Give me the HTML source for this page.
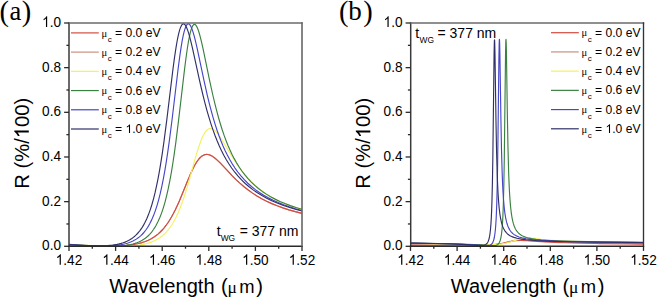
<!DOCTYPE html>
<html><head><meta charset="utf-8"><style>
html,body{margin:0;padding:0;background:#fff;width:657px;height:298px;overflow:hidden}
svg{display:block}
text{font-family:"Liberation Sans",sans-serif;fill:#000}
.tk{font-size:13.6px}
.ttl{font-size:20.13px}
.ttl2{font-size:20.2px}
.mu{font-family:"Liberation Serif",serif;font-size:17.5px}
.mm{font-size:17.5px}
.lg{font-size:12.1px}
.lmu{font-family:"Liberation Serif",serif;font-size:10.5px}
.lsub{font-size:8px}
.tw{font-size:14.0px}
.subw{font-size:8.4px}
.pl{font-family:"Liberation Serif",serif;font-size:28.5px}
.pl2{font-family:"Liberation Serif",serif;font-size:26.5px}
.pl3{font-family:"Liberation Serif",serif;font-size:27px}
</style></head><body>
<svg width="657" height="298" viewBox="0 0 657 298">
<rect width="657" height="298" fill="#fff"/>
<defs><clipPath id="ca"><rect x="69.0" y="22.0" width="233.0" height="224.3"/></clipPath>
<clipPath id="cb"><rect x="410.5" y="22.0" width="233.0" height="224.3"/></clipPath></defs>
<g clip-path="url(#ca)"><path d="M69.00,245.00 L90.80,245.80 L98.68,246.01 L105.48,246.10 L111.64,246.09 L117.12,245.98 L122.08,245.75 L126.60,245.40 L130.92,244.92 L134.92,244.28 L138.64,243.50 L142.08,242.57 L145.32,241.46 L148.36,240.19 L151.24,238.72 L154.00,237.04 L156.16,235.51 L158.24,233.83 L160.24,232.01 L162.20,230.01 L164.12,227.81 L165.96,225.48 L167.76,222.98 L169.56,220.23 L171.48,217.02 L173.40,213.53 L175.32,209.75 L177.32,205.52 L179.16,201.40 L181.12,196.80 L187.52,181.08 L189.92,175.36 L192.44,169.80 L194.72,165.33 L196.12,162.92 L197.52,160.79 L198.88,159.00 L200.24,157.51 L201.60,156.32 L202.96,155.43 L204.32,154.83 L205.72,154.49 L206.76,154.43 L207.84,154.51 L208.96,154.75 L210.08,155.13 L211.24,155.66 L212.48,156.37 L213.76,157.23 L215.08,158.25 L217.20,160.08 L219.64,162.44 L222.28,165.17 L229.08,172.46 L232.52,176.06 L236.28,179.80 L239.88,183.16 L244.04,186.75 L248.24,190.05 L252.52,193.11 L256.96,195.97 L261.68,198.70 L266.60,201.24 L271.76,203.62 L277.16,205.83 L282.88,207.91 L288.88,209.84 L295.24,211.65 L302.00,213.35" fill="none" stroke="#cc9080" stroke-width="1.15" stroke-linejoin="round"/>
<path d="M69.00,245.00 L90.80,245.80 L98.68,246.01 L105.48,246.10 L111.64,246.09 L117.12,245.98 L122.08,245.75 L126.60,245.40 L130.92,244.92 L134.92,244.28 L138.64,243.50 L142.08,242.57 L145.32,241.46 L148.36,240.19 L151.24,238.72 L154.00,237.04 L156.16,235.51 L158.24,233.83 L160.24,232.01 L162.20,230.01 L164.12,227.81 L165.96,225.48 L167.76,222.98 L169.56,220.23 L171.48,217.02 L173.40,213.53 L175.32,209.75 L177.32,205.52 L179.16,201.40 L181.12,196.80 L187.52,181.08 L189.92,175.36 L192.44,169.80 L194.72,165.33 L196.12,162.92 L197.52,160.79 L198.88,159.00 L200.24,157.51 L201.60,156.32 L202.96,155.43 L204.32,154.83 L205.72,154.49 L206.76,154.43 L207.84,154.51 L208.96,154.75 L210.08,155.13 L211.24,155.66 L212.48,156.37 L213.76,157.23 L215.08,158.25 L217.20,160.08 L219.64,162.44 L222.28,165.17 L229.08,172.46 L232.52,176.06 L236.28,179.80 L239.88,183.16 L244.04,186.75 L248.24,190.05 L252.52,193.11 L256.96,195.97 L261.68,198.70 L266.60,201.24 L271.76,203.62 L277.16,205.83 L282.88,207.91 L288.88,209.84 L295.24,211.65 L302.00,213.35" fill="none" stroke="#d44c40" stroke-width="1.15" stroke-linejoin="round"/>
<path d="M69.00,244.65 L96.64,245.79 L105.24,246.07 L112.44,246.23 L119.04,246.27 L124.84,246.18 L130.00,245.97 L134.64,245.62 L139.16,245.08 L143.28,244.38 L147.08,243.48 L150.56,242.39 L153.80,241.09 L156.84,239.57 L159.68,237.80 L162.36,235.79 L164.60,233.79 L166.72,231.59 L168.76,229.16 L170.72,226.50 L172.64,223.54 L174.48,220.35 L176.28,216.86 L178.04,213.08 L179.84,208.81 L181.60,204.23 L183.40,199.14 L185.24,193.51 L186.88,188.17 L188.68,182.01 L194.40,161.45 L196.48,154.21 L198.64,147.25 L200.56,141.77 L201.76,138.75 L202.96,136.10 L204.12,133.90 L205.24,132.13 L206.36,130.71 L207.52,129.62 L208.68,128.90 L209.28,128.67 L209.88,128.53 L210.76,128.49 L211.64,128.63 L212.56,128.96 L213.48,129.47 L214.44,130.17 L215.44,131.06 L216.48,132.15 L217.56,133.44 L219.64,136.26 L222.04,139.94 L230.44,153.97 L233.92,159.57 L236.84,164.01 L239.68,168.05 L243.56,173.12 L245.50,175.47 L247.48,177.73 L249.50,179.92 L251.56,182.02 L253.64,184.02 L255.76,185.94 L258.04,187.88 L260.40,189.76 L262.84,191.58 L265.32,193.30 L267.88,194.97 L270.50,196.56 L273.20,198.08 L276.00,199.56 L278.88,200.97 L281.88,202.34 L284.96,203.65 L288.12,204.90 L291.44,206.12 L294.84,207.27 L302.00,209.45" fill="none" stroke="#f3f160" stroke-width="1.15" stroke-linejoin="round"/>
<path d="M69.00,244.44 L83.84,245.31 L94.12,245.82 L102.52,246.12 L109.56,246.23 L115.88,246.13 L121.40,245.82 L126.28,245.28 L128.52,244.93 L130.68,244.51 L132.84,243.99 L134.88,243.41 L136.84,242.74 L138.68,242.00 L140.44,241.18 L142.16,240.26 L143.76,239.28 L145.32,238.18 L146.80,237.01 L148.24,235.73 L149.64,234.33 L150.96,232.85 L152.24,231.27 L153.50,229.53 L154.72,227.68 L155.88,225.74 L157.92,221.84 L159.84,217.54 L161.64,212.85 L163.40,207.57 L165.08,201.79 L166.72,195.36 L168.28,188.46 L169.80,180.93 L171.32,172.54 L172.80,163.51 L174.28,153.62 L175.80,142.59 L178.60,120.19 L184.56,69.08 L186.12,56.95 L187.56,47.02 L188.44,41.70 L189.32,37.02 L190.16,33.21 L191.00,30.07 L191.80,27.72 L192.64,25.92 L193.04,25.31 L193.48,24.82 L193.88,24.53 L194.32,24.38 L194.64,24.39 L195.00,24.50 L195.68,25.01 L196.36,25.90 L197.08,27.22 L197.84,29.00 L198.60,31.15 L199.40,33.74 L200.24,36.80 L201.56,42.15 L203.08,48.93 L209.68,80.76 L213.04,96.00 L214.88,103.73 L216.72,110.98 L218.56,117.74 L220.40,124.02 L222.20,129.73 L224.04,135.14 L225.92,140.26 L227.88,145.19 L229.88,149.81 L231.92,154.16 L234.08,158.39 L236.28,162.33 L239.00,166.77 L241.88,171.00 L244.88,174.95 L248.00,178.63 L251.28,182.11 L254.76,185.41 L258.40,188.49 L262.24,191.40 L266.28,194.13 L270.56,196.70 L275.08,199.13 L279.88,201.42 L284.96,203.58 L290.32,205.61 L296.00,207.51 L302.00,209.31" fill="none" stroke="#3a8040" stroke-width="1.15" stroke-linejoin="round"/>
<path d="M69.00,244.60 L81.32,245.31 L90.72,245.74 L98.56,245.95 L105.20,245.96 L111.16,245.76 L116.40,245.34 L121.08,244.68 L123.24,244.26 L125.32,243.78 L127.36,243.20 L129.32,242.55 L131.20,241.81 L132.96,241.01 L134.68,240.11 L136.32,239.12 L137.88,238.06 L139.40,236.89 L140.88,235.60 L142.28,234.24 L143.64,232.76 L144.92,231.22 L146.20,229.51 L147.40,227.75 L148.56,225.87 L149.72,223.81 L151.68,219.88 L153.52,215.59 L155.28,210.86 L157.00,205.57 L158.64,199.83 L160.20,193.67 L161.72,186.94 L163.24,179.44 L164.76,171.12 L166.24,162.20 L167.72,152.46 L169.24,141.63 L172.04,119.71 L178.12,68.78 L179.76,56.34 L181.20,46.64 L182.12,41.19 L183.00,36.62 L183.88,32.70 L184.72,29.62 L185.56,27.19 L186.44,25.35 L186.84,24.75 L187.28,24.26 L187.72,23.95 L188.16,23.80 L188.50,23.81 L188.84,23.91 L189.20,24.12 L189.56,24.43 L190.28,25.35 L191.00,26.65 L191.76,28.39 L192.56,30.58 L193.36,33.11 L194.24,36.23 L195.60,41.62 L197.16,48.41 L203.96,80.43 L207.48,96.01 L209.40,103.86 L211.32,111.21 L213.24,118.06 L215.16,124.42 L217.04,130.20 L219.00,135.77 L221.00,141.02 L223.04,145.96 L225.16,150.67 L227.32,155.08 L229.56,159.28 L231.92,163.33 L234.80,167.81 L237.80,172.01 L240.96,175.97 L244.28,179.70 L247.80,183.23 L251.48,186.53 L255.36,189.63 L259.44,192.55 L263.76,195.29 L268.32,197.87 L273.16,200.31 L278.28,202.60 L283.68,204.76 L289.44,206.79 L295.52,208.71 L302.00,210.52" fill="none" stroke="#4646c8" stroke-width="1.15" stroke-linejoin="round"/>
<path d="M69.00,244.57 L79.88,245.24 L88.52,245.65 L95.80,245.84 L102.08,245.81 L107.68,245.57 L112.68,245.09 L117.16,244.37 L119.24,243.92 L121.20,243.40 L123.16,242.79 L125.04,242.10 L126.84,241.33 L128.56,240.47 L130.20,239.54 L131.80,238.50 L133.32,237.39 L134.76,236.20 L136.16,234.91 L137.52,233.50 L138.84,231.99 L140.12,230.37 L141.32,228.69 L142.52,226.84 L143.68,224.88 L144.80,222.82 L146.68,218.91 L148.48,214.59 L150.20,209.86 L151.84,204.73 L153.44,199.08 L155.00,192.88 L156.50,186.23 L157.96,179.04 L159.48,170.78 L160.96,161.95 L162.44,152.33 L163.96,141.64 L166.76,120.10 L172.96,69.13 L174.64,56.62 L176.12,46.85 L177.04,41.50 L177.96,36.80 L178.88,32.79 L179.76,29.63 L180.64,27.16 L181.50,25.41 L181.96,24.75 L182.40,24.28 L182.84,23.98 L183.28,23.84 L183.64,23.85 L184.00,23.96 L184.72,24.47 L185.44,25.37 L186.20,26.69 L187.00,28.47 L187.80,30.61 L188.64,33.19 L189.52,36.22 L190.92,41.60 L192.52,48.35 L199.52,80.27 L201.40,88.50 L203.16,95.86 L205.16,103.77 L207.12,111.03 L209.12,117.93 L211.12,124.34 L213.08,130.15 L215.12,135.75 L217.20,141.02 L219.32,145.97 L221.52,150.68 L223.80,155.17 L226.16,159.43 L228.64,163.52 L231.64,168.00 L234.80,172.24 L238.08,176.19 L241.56,179.94 L245.24,183.49 L249.08,186.79 L253.12,189.90 L257.40,192.84 L261.92,195.60 L266.72,198.22 L271.76,200.66 L277.12,202.98 L282.80,205.17 L288.84,207.24 L295.24,209.19 L302.00,211.02" fill="none" stroke="#303068" stroke-width="1.15" stroke-linejoin="round"/></g>
<g clip-path="url(#cb)"><path d="M411.00,244.80 C420.67,244.80 430.25,244.80 440.00,244.80 C449.92,244.80 461.01,244.80 470.00,244.80 C477.34,244.80 484.53,245.05 490.00,244.80 C493.82,244.62 496.97,244.36 499.70,243.90 C501.75,243.56 503.26,243.02 505.00,242.60 C506.69,242.19 508.33,241.77 510.00,241.40 C511.66,241.03 513.32,240.63 515.00,240.40 C516.68,240.17 518.12,240.05 520.10,240.00 C522.86,239.93 526.36,240.14 530.00,240.30 C534.48,240.50 539.64,240.91 545.00,241.20 C551.19,241.54 557.40,241.92 565.00,242.20 C575.04,242.57 587.73,242.77 600.00,243.00 C613.60,243.25 628.67,243.40 643.00,243.60" fill="none" stroke="#cc9080" stroke-width="1.15" stroke-linejoin="round"/>
<path d="M411.00,245.20 C420.67,245.20 430.25,245.20 440.00,245.20 C449.92,245.20 461.01,245.22 470.00,245.20 C477.34,245.18 484.53,245.39 490.00,245.10 C493.82,244.89 496.96,244.55 499.70,244.10 C501.74,243.76 503.26,243.31 505.00,242.90 C506.69,242.51 508.33,242.07 510.00,241.70 C511.66,241.33 513.32,240.92 515.00,240.70 C516.68,240.48 518.12,240.41 520.10,240.40 C522.86,240.39 526.36,240.69 530.00,240.90 C534.48,241.16 539.64,241.60 545.00,241.90 C551.19,242.25 557.41,242.54 565.00,242.80 C575.04,243.14 587.73,243.39 600.00,243.60 C613.60,243.83 628.67,243.93 643.00,244.10" fill="none" stroke="#d44c40" stroke-width="1.15" stroke-linejoin="round"/>
<path d="M411.00,243.20 C417.33,243.33 423.59,243.44 430.00,243.60 C436.58,243.77 443.33,244.03 450.00,244.20 C456.67,244.37 463.33,244.52 470.00,244.60 C476.67,244.68 484.53,244.77 490.00,244.70 C493.81,244.65 496.96,244.70 499.70,244.40 C501.74,244.18 503.27,243.81 505.00,243.40 C506.70,243.00 508.34,242.50 510.00,242.00 C511.67,241.50 513.33,240.90 515.00,240.40 C516.66,239.90 518.18,239.40 520.00,239.00 C522.13,238.54 524.58,238.01 527.00,237.90 C529.57,237.78 532.19,238.12 535.00,238.40 C538.15,238.72 541.09,239.41 545.00,239.80 C550.51,240.35 557.40,240.66 565.00,241.00 C575.04,241.44 587.73,241.74 600.00,242.00 C613.60,242.29 628.67,242.40 643.00,242.60" fill="none" stroke="#f3f160" stroke-width="1.15" stroke-linejoin="round"/>
<path d="M410.50,243.17 L439.00,243.54 L460.00,244.01 L474.00,244.55 L480.50,244.92 L489.88,245.57 L493.04,245.67 L494.36,245.60 L495.44,245.45 L496.36,245.21 L497.16,244.86 L497.88,244.37 L498.50,243.77 L499.04,243.04 L499.56,242.09 L500.28,240.18 L500.92,237.59 L501.44,234.49 L501.92,230.44 L502.36,225.22 L502.72,219.40 L503.04,212.58 L503.36,203.67 L503.84,184.82 L504.28,159.58 L505.56,52.75 L505.80,41.90 L505.88,40.17 L506.00,39.43 L506.20,42.88 L506.44,53.35 L507.40,117.13 L508.00,148.85 L508.68,173.34 L509.08,183.61 L509.48,191.72 L510.00,199.89 L510.56,206.53 L511.24,212.56 L512.00,217.51 L512.88,221.69 L513.40,223.63 L513.92,225.27 L514.50,226.82 L515.12,228.22 L515.80,229.52 L516.52,230.68 L517.28,231.72 L518.12,232.68 L519.00,233.54 L519.96,234.32 L521.00,235.04 L522.16,235.72 L523.40,236.33 L524.76,236.89 L526.50,237.48 L528.00,237.90 L531.50,238.67 L536.00,239.37 L541.00,239.92 L547.00,240.38 L554.50,240.79 L563.50,241.13 L574.50,241.43 L602.50,241.89 L643.50,242.26" fill="none" stroke="#3a8040" stroke-width="1.15" stroke-linejoin="round"/>
<path d="M410.50,243.04 L436.00,243.47 L455.00,243.99 L468.00,244.56 L474.00,244.93 L483.29,245.61 L486.53,245.72 L487.85,245.65 L488.93,245.49 L489.85,245.23 L490.65,244.85 L491.37,244.33 L492.00,243.67 L492.57,242.84 L493.05,241.88 L493.77,239.83 L494.37,237.25 L494.89,234.01 L495.37,229.77 L495.77,224.89 L496.13,219.00 L496.45,212.13 L496.77,203.18 L497.17,188.05 L497.57,167.03 L498.01,135.56 L498.89,59.20 L499.17,43.90 L499.29,40.59 L499.41,39.41 L499.53,40.32 L499.65,43.16 L499.89,53.57 L500.89,118.47 L501.50,149.69 L502.17,173.06 L502.57,183.15 L503.00,191.73 L503.53,199.80 L504.17,207.10 L504.85,212.83 L505.65,217.79 L506.57,221.95 L507.09,223.79 L507.65,225.47 L508.25,226.99 L508.89,228.37 L509.57,229.61 L510.33,230.77 L511.13,231.81 L511.97,232.73 L512.89,233.59 L513.93,234.41 L515.01,235.12 L516.21,235.78 L517.50,236.39 L518.93,236.95 L522.00,237.88 L526.00,238.74 L530.50,239.41 L536.00,239.99 L542.50,240.48 L550.50,240.91 L560.00,241.27 L571.00,241.57 L600.50,242.10 L643.50,242.56" fill="none" stroke="#4646c8" stroke-width="1.15" stroke-linejoin="round"/>
<path d="M410.50,243.14 L433.00,243.50 L450.50,243.94 L462.00,244.39 L477.89,245.31 L481.45,245.39 L482.85,245.30 L484.00,245.12 L484.97,244.82 L485.81,244.40 L486.57,243.82 L487.21,243.11 L487.77,242.24 L488.29,241.15 L488.97,239.10 L489.57,236.41 L490.09,233.04 L490.53,229.04 L490.93,224.09 L491.29,218.10 L491.61,211.10 L491.93,201.96 L492.41,182.66 L492.85,156.91 L494.09,53.44 L494.33,42.44 L494.41,40.65 L494.53,39.82 L494.61,40.48 L494.73,43.16 L494.97,53.57 L495.97,120.14 L496.57,151.31 L497.25,175.27 L497.65,185.29 L498.05,193.20 L498.57,201.15 L499.17,208.03 L499.85,213.79 L500.65,218.74 L501.57,222.85 L502.09,224.66 L502.61,226.20 L503.21,227.71 L503.85,229.06 L504.57,230.34 L505.33,231.47 L506.13,232.47 L507.00,233.38 L507.93,234.21 L508.93,234.96 L510.05,235.66 L511.25,236.29 L512.57,236.87 L514.00,237.40 L517.00,238.25 L521.00,239.06 L526.00,239.75 L531.50,240.28 L538.00,240.72 L546.00,241.10 L555.50,241.43 L567.50,241.72 L598.50,242.21 L643.50,242.63" fill="none" stroke="#303068" stroke-width="1.15" stroke-linejoin="round"/></g>
<line x1="69.0" y1="22.4" x2="69.0" y2="246.9" stroke="#3a3a3a" stroke-width="1.5"/>
<line x1="68.4" y1="246.3" x2="302.6" y2="246.3" stroke="#2a2a2a" stroke-width="1.5"/>
<line x1="68.3" y1="23.0" x2="302.7" y2="23.0" stroke="#6a6a6a" stroke-width="1.6"/>
<line x1="302.0" y1="22.3" x2="302.0" y2="247.0" stroke="#666666" stroke-width="1.6"/>
<line x1="69.00" y1="246.3" x2="69.00" y2="250.9" stroke="#2a2a2a" stroke-width="1.3"/>
<line x1="92.30" y1="246.3" x2="92.30" y2="248.70000000000002" stroke="#2a2a2a" stroke-width="1.3"/>
<line x1="115.60" y1="246.3" x2="115.60" y2="250.9" stroke="#2a2a2a" stroke-width="1.3"/>
<line x1="138.90" y1="246.3" x2="138.90" y2="248.70000000000002" stroke="#2a2a2a" stroke-width="1.3"/>
<line x1="162.20" y1="246.3" x2="162.20" y2="250.9" stroke="#2a2a2a" stroke-width="1.3"/>
<line x1="185.50" y1="246.3" x2="185.50" y2="248.70000000000002" stroke="#2a2a2a" stroke-width="1.3"/>
<line x1="208.80" y1="246.3" x2="208.80" y2="250.9" stroke="#2a2a2a" stroke-width="1.3"/>
<line x1="232.10" y1="246.3" x2="232.10" y2="248.70000000000002" stroke="#2a2a2a" stroke-width="1.3"/>
<line x1="255.40" y1="246.3" x2="255.40" y2="250.9" stroke="#2a2a2a" stroke-width="1.3"/>
<line x1="278.70" y1="246.3" x2="278.70" y2="248.70000000000002" stroke="#2a2a2a" stroke-width="1.3"/>
<line x1="302.00" y1="246.3" x2="302.00" y2="250.9" stroke="#2a2a2a" stroke-width="1.3"/>
<line x1="64.1" y1="246.30" x2="69.0" y2="246.30" stroke="#2a2a2a" stroke-width="1.3"/>
<line x1="66.4" y1="223.97" x2="69.0" y2="223.97" stroke="#2a2a2a" stroke-width="1.3"/>
<line x1="64.1" y1="201.64" x2="69.0" y2="201.64" stroke="#2a2a2a" stroke-width="1.3"/>
<line x1="66.4" y1="179.31" x2="69.0" y2="179.31" stroke="#2a2a2a" stroke-width="1.3"/>
<line x1="64.1" y1="156.98" x2="69.0" y2="156.98" stroke="#2a2a2a" stroke-width="1.3"/>
<line x1="66.4" y1="134.65" x2="69.0" y2="134.65" stroke="#2a2a2a" stroke-width="1.3"/>
<line x1="64.1" y1="112.32" x2="69.0" y2="112.32" stroke="#2a2a2a" stroke-width="1.3"/>
<line x1="66.4" y1="89.99" x2="69.0" y2="89.99" stroke="#2a2a2a" stroke-width="1.3"/>
<line x1="64.1" y1="67.66" x2="69.0" y2="67.66" stroke="#2a2a2a" stroke-width="1.3"/>
<line x1="66.4" y1="45.33" x2="69.0" y2="45.33" stroke="#2a2a2a" stroke-width="1.3"/>
<line x1="64.1" y1="23.00" x2="69.0" y2="23.00" stroke="#2a2a2a" stroke-width="1.3"/>
<line x1="410.7" y1="22.4" x2="410.7" y2="246.9" stroke="#3a3a3a" stroke-width="1.5"/>
<line x1="409.9" y1="246.3" x2="644.1" y2="246.3" stroke="#2a2a2a" stroke-width="1.5"/>
<line x1="409.8" y1="23.0" x2="644.2" y2="23.0" stroke="#6a6a6a" stroke-width="1.6"/>
<line x1="643.5" y1="22.3" x2="643.5" y2="247.0" stroke="#333333" stroke-width="1.35"/>
<line x1="410.50" y1="246.3" x2="410.50" y2="250.9" stroke="#2a2a2a" stroke-width="1.3"/>
<line x1="433.80" y1="246.3" x2="433.80" y2="248.70000000000002" stroke="#2a2a2a" stroke-width="1.3"/>
<line x1="457.10" y1="246.3" x2="457.10" y2="250.9" stroke="#2a2a2a" stroke-width="1.3"/>
<line x1="480.40" y1="246.3" x2="480.40" y2="248.70000000000002" stroke="#2a2a2a" stroke-width="1.3"/>
<line x1="503.70" y1="246.3" x2="503.70" y2="250.9" stroke="#2a2a2a" stroke-width="1.3"/>
<line x1="527.00" y1="246.3" x2="527.00" y2="248.70000000000002" stroke="#2a2a2a" stroke-width="1.3"/>
<line x1="550.30" y1="246.3" x2="550.30" y2="250.9" stroke="#2a2a2a" stroke-width="1.3"/>
<line x1="573.60" y1="246.3" x2="573.60" y2="248.70000000000002" stroke="#2a2a2a" stroke-width="1.3"/>
<line x1="596.90" y1="246.3" x2="596.90" y2="250.9" stroke="#2a2a2a" stroke-width="1.3"/>
<line x1="620.20" y1="246.3" x2="620.20" y2="248.70000000000002" stroke="#2a2a2a" stroke-width="1.3"/>
<line x1="643.50" y1="246.3" x2="643.50" y2="250.9" stroke="#2a2a2a" stroke-width="1.3"/>
<line x1="405.6" y1="246.30" x2="410.5" y2="246.30" stroke="#2a2a2a" stroke-width="1.3"/>
<line x1="407.9" y1="223.97" x2="410.5" y2="223.97" stroke="#2a2a2a" stroke-width="1.3"/>
<line x1="405.6" y1="201.64" x2="410.5" y2="201.64" stroke="#2a2a2a" stroke-width="1.3"/>
<line x1="407.9" y1="179.31" x2="410.5" y2="179.31" stroke="#2a2a2a" stroke-width="1.3"/>
<line x1="405.6" y1="156.98" x2="410.5" y2="156.98" stroke="#2a2a2a" stroke-width="1.3"/>
<line x1="407.9" y1="134.65" x2="410.5" y2="134.65" stroke="#2a2a2a" stroke-width="1.3"/>
<line x1="405.6" y1="112.32" x2="410.5" y2="112.32" stroke="#2a2a2a" stroke-width="1.3"/>
<line x1="407.9" y1="89.99" x2="410.5" y2="89.99" stroke="#2a2a2a" stroke-width="1.3"/>
<line x1="405.6" y1="67.66" x2="410.5" y2="67.66" stroke="#2a2a2a" stroke-width="1.3"/>
<line x1="407.9" y1="45.33" x2="410.5" y2="45.33" stroke="#2a2a2a" stroke-width="1.3"/>
<line x1="405.6" y1="23.00" x2="410.5" y2="23.00" stroke="#2a2a2a" stroke-width="1.3"/>
<g transform="translate(55.77,264.85) scale(1,1.1)"><path transform="translate(0.00,0) scale(0.006641,-0.006641)" d="M763 0L583 0L583 1147Q518 1085 412 1023Q306 961 223 930L223 1104Q372 1174 484 1274Q596 1374 643 1466L763 1466Z" fill="#000"/><text x="7.56" y="0" class="" style="font-size:13.6px;white-space:pre">.42</text></g>
<g transform="translate(102.37,264.85) scale(1,1.1)"><path transform="translate(0.00,0) scale(0.006641,-0.006641)" d="M763 0L583 0L583 1147Q518 1085 412 1023Q306 961 223 930L223 1104Q372 1174 484 1274Q596 1374 643 1466L763 1466Z" fill="#000"/><text x="7.56" y="0" class="" style="font-size:13.6px;white-space:pre">.44</text></g>
<g transform="translate(148.97,264.85) scale(1,1.1)"><path transform="translate(0.00,0) scale(0.006641,-0.006641)" d="M763 0L583 0L583 1147Q518 1085 412 1023Q306 961 223 930L223 1104Q372 1174 484 1274Q596 1374 643 1466L763 1466Z" fill="#000"/><text x="7.56" y="0" class="" style="font-size:13.6px;white-space:pre">.46</text></g>
<g transform="translate(195.57,264.85) scale(1,1.1)"><path transform="translate(0.00,0) scale(0.006641,-0.006641)" d="M763 0L583 0L583 1147Q518 1085 412 1023Q306 961 223 930L223 1104Q372 1174 484 1274Q596 1374 643 1466L763 1466Z" fill="#000"/><text x="7.56" y="0" class="" style="font-size:13.6px;white-space:pre">.48</text></g>
<g transform="translate(242.17,264.85) scale(1,1.1)"><path transform="translate(0.00,0) scale(0.006641,-0.006641)" d="M763 0L583 0L583 1147Q518 1085 412 1023Q306 961 223 930L223 1104Q372 1174 484 1274Q596 1374 643 1466L763 1466Z" fill="#000"/><text x="7.56" y="0" class="" style="font-size:13.6px;white-space:pre">.50</text></g>
<g transform="translate(288.77,264.85) scale(1,1.1)"><path transform="translate(0.00,0) scale(0.006641,-0.006641)" d="M763 0L583 0L583 1147Q518 1085 412 1023Q306 961 223 930L223 1104Q372 1174 484 1274Q596 1374 643 1466L763 1466Z" fill="#000"/><text x="7.56" y="0" class="" style="font-size:13.6px;white-space:pre">.52</text></g>
<g transform="translate(42.09,250.25) scale(1,1.1)"><text x="0.00" y="0" class="" style="font-size:13.6px;white-space:pre">0.0</text></g>
<g transform="translate(42.09,205.59) scale(1,1.1)"><text x="0.00" y="0" class="" style="font-size:13.6px;white-space:pre">0.2</text></g>
<g transform="translate(42.09,160.93) scale(1,1.1)"><text x="0.00" y="0" class="" style="font-size:13.6px;white-space:pre">0.4</text></g>
<g transform="translate(42.09,116.27) scale(1,1.1)"><text x="0.00" y="0" class="" style="font-size:13.6px;white-space:pre">0.6</text></g>
<g transform="translate(42.09,71.61) scale(1,1.1)"><text x="0.00" y="0" class="" style="font-size:13.6px;white-space:pre">0.8</text></g>
<g transform="translate(42.09,26.95) scale(1,1.1)"><path transform="translate(0.00,0) scale(0.006641,-0.006641)" d="M763 0L583 0L583 1147Q518 1085 412 1023Q306 961 223 930L223 1104Q372 1174 484 1274Q596 1374 643 1466L763 1466Z" fill="#000"/><text x="7.56" y="0" class="" style="font-size:13.6px;white-space:pre">.0</text></g>
<text x="109.20" y="292.6" class="ttl">Wavelength</text>
<text x="221.00" y="293.0" class="ttl">(</text>
<text x="227.50" y="292.8" class="mu">&#956;</text>
<text x="239.30" y="293.1" class="mm" textLength="15.3" lengthAdjust="spacingAndGlyphs">m</text>
<text x="256.30" y="293.0" class="ttl">)</text>
<g transform="translate(28.80,188.65) rotate(-90)"><text x="0.00" y="0" class="" style="font-size:20.2px;white-space:pre">R (%/</text><path transform="translate(50.50,0) scale(0.009863,-0.009863)" d="M763 0L583 0L583 1147Q518 1085 412 1023Q306 961 223 930L223 1104Q372 1174 484 1274Q596 1374 643 1466L763 1466Z" fill="#000"/><text x="61.73" y="0" class="" style="font-size:20.2px;white-space:pre">00)</text></g>
<g transform="translate(397.27,264.85) scale(1,1.1)"><path transform="translate(0.00,0) scale(0.006641,-0.006641)" d="M763 0L583 0L583 1147Q518 1085 412 1023Q306 961 223 930L223 1104Q372 1174 484 1274Q596 1374 643 1466L763 1466Z" fill="#000"/><text x="7.56" y="0" class="" style="font-size:13.6px;white-space:pre">.42</text></g>
<g transform="translate(443.87,264.85) scale(1,1.1)"><path transform="translate(0.00,0) scale(0.006641,-0.006641)" d="M763 0L583 0L583 1147Q518 1085 412 1023Q306 961 223 930L223 1104Q372 1174 484 1274Q596 1374 643 1466L763 1466Z" fill="#000"/><text x="7.56" y="0" class="" style="font-size:13.6px;white-space:pre">.44</text></g>
<g transform="translate(490.47,264.85) scale(1,1.1)"><path transform="translate(0.00,0) scale(0.006641,-0.006641)" d="M763 0L583 0L583 1147Q518 1085 412 1023Q306 961 223 930L223 1104Q372 1174 484 1274Q596 1374 643 1466L763 1466Z" fill="#000"/><text x="7.56" y="0" class="" style="font-size:13.6px;white-space:pre">.46</text></g>
<g transform="translate(537.07,264.85) scale(1,1.1)"><path transform="translate(0.00,0) scale(0.006641,-0.006641)" d="M763 0L583 0L583 1147Q518 1085 412 1023Q306 961 223 930L223 1104Q372 1174 484 1274Q596 1374 643 1466L763 1466Z" fill="#000"/><text x="7.56" y="0" class="" style="font-size:13.6px;white-space:pre">.48</text></g>
<g transform="translate(583.67,264.85) scale(1,1.1)"><path transform="translate(0.00,0) scale(0.006641,-0.006641)" d="M763 0L583 0L583 1147Q518 1085 412 1023Q306 961 223 930L223 1104Q372 1174 484 1274Q596 1374 643 1466L763 1466Z" fill="#000"/><text x="7.56" y="0" class="" style="font-size:13.6px;white-space:pre">.50</text></g>
<g transform="translate(630.27,264.85) scale(1,1.1)"><path transform="translate(0.00,0) scale(0.006641,-0.006641)" d="M763 0L583 0L583 1147Q518 1085 412 1023Q306 961 223 930L223 1104Q372 1174 484 1274Q596 1374 643 1466L763 1466Z" fill="#000"/><text x="7.56" y="0" class="" style="font-size:13.6px;white-space:pre">.52</text></g>
<g transform="translate(383.59,250.25) scale(1,1.1)"><text x="0.00" y="0" class="" style="font-size:13.6px;white-space:pre">0.0</text></g>
<g transform="translate(383.59,205.59) scale(1,1.1)"><text x="0.00" y="0" class="" style="font-size:13.6px;white-space:pre">0.2</text></g>
<g transform="translate(383.59,160.93) scale(1,1.1)"><text x="0.00" y="0" class="" style="font-size:13.6px;white-space:pre">0.4</text></g>
<g transform="translate(383.59,116.27) scale(1,1.1)"><text x="0.00" y="0" class="" style="font-size:13.6px;white-space:pre">0.6</text></g>
<g transform="translate(383.59,71.61) scale(1,1.1)"><text x="0.00" y="0" class="" style="font-size:13.6px;white-space:pre">0.8</text></g>
<g transform="translate(383.59,26.95) scale(1,1.1)"><path transform="translate(0.00,0) scale(0.006641,-0.006641)" d="M763 0L583 0L583 1147Q518 1085 412 1023Q306 961 223 930L223 1104Q372 1174 484 1274Q596 1374 643 1466L763 1466Z" fill="#000"/><text x="7.56" y="0" class="" style="font-size:13.6px;white-space:pre">.0</text></g>
<text x="450.70" y="292.6" class="ttl">Wavelength</text>
<text x="562.50" y="293.0" class="ttl">(</text>
<text x="569.00" y="292.8" class="mu">&#956;</text>
<text x="580.80" y="293.1" class="mm" textLength="15.3" lengthAdjust="spacingAndGlyphs">m</text>
<text x="597.80" y="293.0" class="ttl">)</text>
<g transform="translate(370.30,188.65) rotate(-90)"><text x="0.00" y="0" class="" style="font-size:20.2px;white-space:pre">R (%/</text><path transform="translate(50.50,0) scale(0.009863,-0.009863)" d="M763 0L583 0L583 1147Q518 1085 412 1023Q306 961 223 930L223 1104Q372 1174 484 1274Q596 1374 643 1466L763 1466Z" fill="#000"/><text x="61.73" y="0" class="" style="font-size:20.2px;white-space:pre">00)</text></g>
<line x1="71.0" y1="32.90" x2="98.80" y2="32.90" stroke="#d44c40" stroke-width="1.2"/>
<text x="101.53" y="36.60" class="lmu">&#956;</text>
<text x="107.65" y="41.90" class="lsub">c</text>
<g transform="translate(115.10,37.00)"><text x="0.00" y="0" class="" style="font-size:12.1px;white-space:pre">= 0.0 eV</text></g>
<line x1="71.0" y1="52.12" x2="98.80" y2="52.12" stroke="#cc9080" stroke-width="1.2"/>
<text x="101.53" y="55.82" class="lmu">&#956;</text>
<text x="107.65" y="61.12" class="lsub">c</text>
<g transform="translate(115.10,56.22)"><text x="0.00" y="0" class="" style="font-size:12.1px;white-space:pre">= 0.2 eV</text></g>
<line x1="71.0" y1="71.34" x2="98.80" y2="71.34" stroke="#f3f160" stroke-width="1.2"/>
<text x="101.53" y="75.04" class="lmu">&#956;</text>
<text x="107.65" y="80.34" class="lsub">c</text>
<g transform="translate(115.10,75.44)"><text x="0.00" y="0" class="" style="font-size:12.1px;white-space:pre">= 0.4 eV</text></g>
<line x1="71.0" y1="90.56" x2="98.80" y2="90.56" stroke="#3a8040" stroke-width="1.2"/>
<text x="101.53" y="94.26" class="lmu">&#956;</text>
<text x="107.65" y="99.56" class="lsub">c</text>
<g transform="translate(115.10,94.66)"><text x="0.00" y="0" class="" style="font-size:12.1px;white-space:pre">= 0.6 eV</text></g>
<line x1="71.0" y1="109.78" x2="98.80" y2="109.78" stroke="#4646c8" stroke-width="1.2"/>
<text x="101.53" y="113.48" class="lmu">&#956;</text>
<text x="107.65" y="118.78" class="lsub">c</text>
<g transform="translate(115.10,113.88)"><text x="0.00" y="0" class="" style="font-size:12.1px;white-space:pre">= 0.8 eV</text></g>
<line x1="71.0" y1="129.00" x2="98.80" y2="129.00" stroke="#303068" stroke-width="1.2"/>
<text x="101.53" y="132.70" class="lmu">&#956;</text>
<text x="107.65" y="138.00" class="lsub">c</text>
<g transform="translate(115.10,133.10)"><text x="0.00" y="0" class="" style="font-size:12.1px;white-space:pre">= </text><path transform="translate(10.43,0) scale(0.005908,-0.005908)" d="M763 0L583 0L583 1147Q518 1085 412 1023Q306 961 223 930L223 1104Q372 1174 484 1274Q596 1374 643 1466L763 1466Z" fill="#000"/><text x="17.16" y="0" class="" style="font-size:12.1px;white-space:pre">.0 eV</text></g>
<line x1="551.0" y1="32.70" x2="578.80" y2="32.70" stroke="#d44c40" stroke-width="1.2"/>
<text x="581.53" y="36.40" class="lmu">&#956;</text>
<text x="587.65" y="41.70" class="lsub">c</text>
<g transform="translate(595.10,36.80)"><text x="0.00" y="0" class="" style="font-size:12.1px;white-space:pre">= 0.0 eV</text></g>
<line x1="551.0" y1="51.92" x2="578.80" y2="51.92" stroke="#cc9080" stroke-width="1.2"/>
<text x="581.53" y="55.62" class="lmu">&#956;</text>
<text x="587.65" y="60.92" class="lsub">c</text>
<g transform="translate(595.10,56.02)"><text x="0.00" y="0" class="" style="font-size:12.1px;white-space:pre">= 0.2 eV</text></g>
<line x1="551.0" y1="71.14" x2="578.80" y2="71.14" stroke="#f3f160" stroke-width="1.2"/>
<text x="581.53" y="74.84" class="lmu">&#956;</text>
<text x="587.65" y="80.14" class="lsub">c</text>
<g transform="translate(595.10,75.24)"><text x="0.00" y="0" class="" style="font-size:12.1px;white-space:pre">= 0.4 eV</text></g>
<line x1="551.0" y1="90.36" x2="578.80" y2="90.36" stroke="#3a8040" stroke-width="1.2"/>
<text x="581.53" y="94.06" class="lmu">&#956;</text>
<text x="587.65" y="99.36" class="lsub">c</text>
<g transform="translate(595.10,94.46)"><text x="0.00" y="0" class="" style="font-size:12.1px;white-space:pre">= 0.6 eV</text></g>
<line x1="551.0" y1="109.58" x2="578.80" y2="109.58" stroke="#4646c8" stroke-width="1.2"/>
<text x="581.53" y="113.28" class="lmu">&#956;</text>
<text x="587.65" y="118.58" class="lsub">c</text>
<g transform="translate(595.10,113.68)"><text x="0.00" y="0" class="" style="font-size:12.1px;white-space:pre">= 0.8 eV</text></g>
<line x1="551.0" y1="128.80" x2="578.80" y2="128.80" stroke="#303068" stroke-width="1.2"/>
<text x="581.53" y="132.50" class="lmu">&#956;</text>
<text x="587.65" y="137.80" class="lsub">c</text>
<g transform="translate(595.10,132.90)"><text x="0.00" y="0" class="" style="font-size:12.1px;white-space:pre">= </text><path transform="translate(10.43,0) scale(0.005908,-0.005908)" d="M763 0L583 0L583 1147Q518 1085 412 1023Q306 961 223 930L223 1104Q372 1174 484 1274Q596 1374 643 1466L763 1466Z" fill="#000"/><text x="17.16" y="0" class="" style="font-size:12.1px;white-space:pre">.0 eV</text></g>
<text x="216.80" y="235.80" class="tw">t</text><text x="220.70" y="240.80" class="subw">WG</text><text x="239.63" y="235.80" class="tw">= 377 nm</text>
<text x="415.20" y="37.50" class="tw">t</text><text x="419.50" y="42.80" class="subw">WG</text><text x="437.53" y="37.50" class="tw">= 377 nm</text>
<text x="-0.5" y="20.7" class="pl">(</text><text x="9.5" y="20.2" class="pl2">a</text><text x="21.65" y="20.7" class="pl">)</text>
<text x="339.0" y="20.7" class="pl">(</text><text x="348.25" y="20.1" class="pl3">b</text><text x="363.25" y="20.7" class="pl">)</text>
</svg>
</body></html>
